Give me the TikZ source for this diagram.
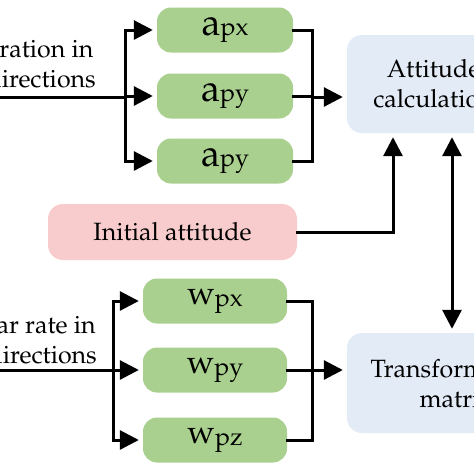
\documentclass[tikz,border=0pt]{standalone}
\usepackage[T1]{fontenc}
\usepackage{mathpazo}
\usetikzlibrary{arrows.meta}
\definecolor{boxgreen}{RGB}{169,208,142}
\definecolor{boxpink}{RGB}{248,204,204}
\definecolor{boxblue}{RGB}{227,235,246}
\newcommand{\biga}[1]{{\fontsize{38}{40}\selectfont #1}}
\newcommand{\bigw}[1]{{\fontsize{33}{40}\selectfont #1}}
\tikzset{
    sensor/.style={rectangle,rounded corners=14pt,fill=boxgreen,minimum height=45pt,inner sep=0pt},
    calc/.style={rectangle,rounded corners=15pt,fill=boxblue,align=center,inner sep=0pt},
    flow/.style={line width=3pt,line cap=rect},
    arr/.style={-{Triangle[length=19pt,width=19pt]},shorten >=4pt},
}
\begin{document}
\begin{tikzpicture}
                [x=1pt,y=-1pt,font=\fontsize{25}{30}\selectfont]
                \useasboundingbox (0,0) rectangle (474,474);
                \clip (0,0) rectangle (474,474);

                \node[align=center] (acctext) at (10,64) {Acceleration in\\three directions};
                \node[sensor,minimum width=136pt] (acc1) at (225,30) {\biga{a}px};
                \node[sensor,minimum width=136pt] (acc2) at (225,96) {\biga{a}py};
                \node[sensor,minimum width=136pt] (acc3) at (225,161) {\biga{a}py};

                \node[rectangle,rounded corners=15pt,fill=boxpink,minimum width=249pt,minimum height=56pt] (init) at (172.5,232) {Initial attitude};

                \node[align=center] (ratetext) at (11,340) {Angular rate in\\three directions};
                \node[sensor,minimum width=144pt] (rate1) at (215,301) {\bigw{w}\raisebox{-2pt}{px}};
                \node[sensor,minimum width=144pt] (rate2) at (215,370) {\bigw{w}\raisebox{-2pt}{py}};
                \node[sensor,minimum width=144pt] (rate3) at (215,440) {\bigw{w}\raisebox{-2pt}{pz}};

                \node[calc,minimum width=173pt,minimum height=98pt] (att) at (433.5,84) {Attitude\\calculation};
                \node[calc,minimum width=218pt,minimum height=100pt] (trans) at (456,383) {Transformation\\matrix};

                \coordinate (accin) at (-30,97);
                \coordinate (accsplit) at (125,97);
                \coordinate (accjoin) at (312,97);
                \coordinate (ratein) at (-30,370);
                \coordinate (ratesplit) at (113,370);
                \coordinate (ratejoin) at (312,370);
                \coordinate (initup) at (393,232);
                \coordinate (link) at (452,0);

                \draw[flow] (accin) -- (accsplit);
                \draw[flow] (accsplit |- acc1) -- (accsplit |- acc3);
                \draw[flow] (accjoin |- acc1) -- (accjoin |- acc3);
                \draw[flow] (ratein) -- (ratesplit);
                \draw[flow] (ratesplit |- rate1) -- (ratesplit |- rate3);
                \draw[flow] (ratejoin |- rate1) -- (ratejoin |- rate3);
                \foreach \i in {1,2,3}
                {
                    \draw[flow,arr] (accsplit |- acc\i) -- (acc\i);
                    \draw[flow] (acc\i) -- (accjoin |- acc\i);
                    \draw[flow,arr] (ratesplit |- rate\i) -- (rate\i);
                    \draw[flow] (rate\i) -- (ratejoin |- rate\i);
                }
                \draw[flow,arr] (accjoin) -- (accjoin -| att.west);
                \draw[flow,arr] (ratejoin) -- (ratejoin -| trans.west);
                \draw[flow,arr] (init) -| (initup |- att.south);
                \draw[flow,{Triangle[length=19pt,width=19pt]}-{Triangle[length=19pt,width=19pt]},shorten <=4pt,shorten >=4pt] (link |- att.south) -- (link |- trans.north);
            \end{tikzpicture}
\end{document}
